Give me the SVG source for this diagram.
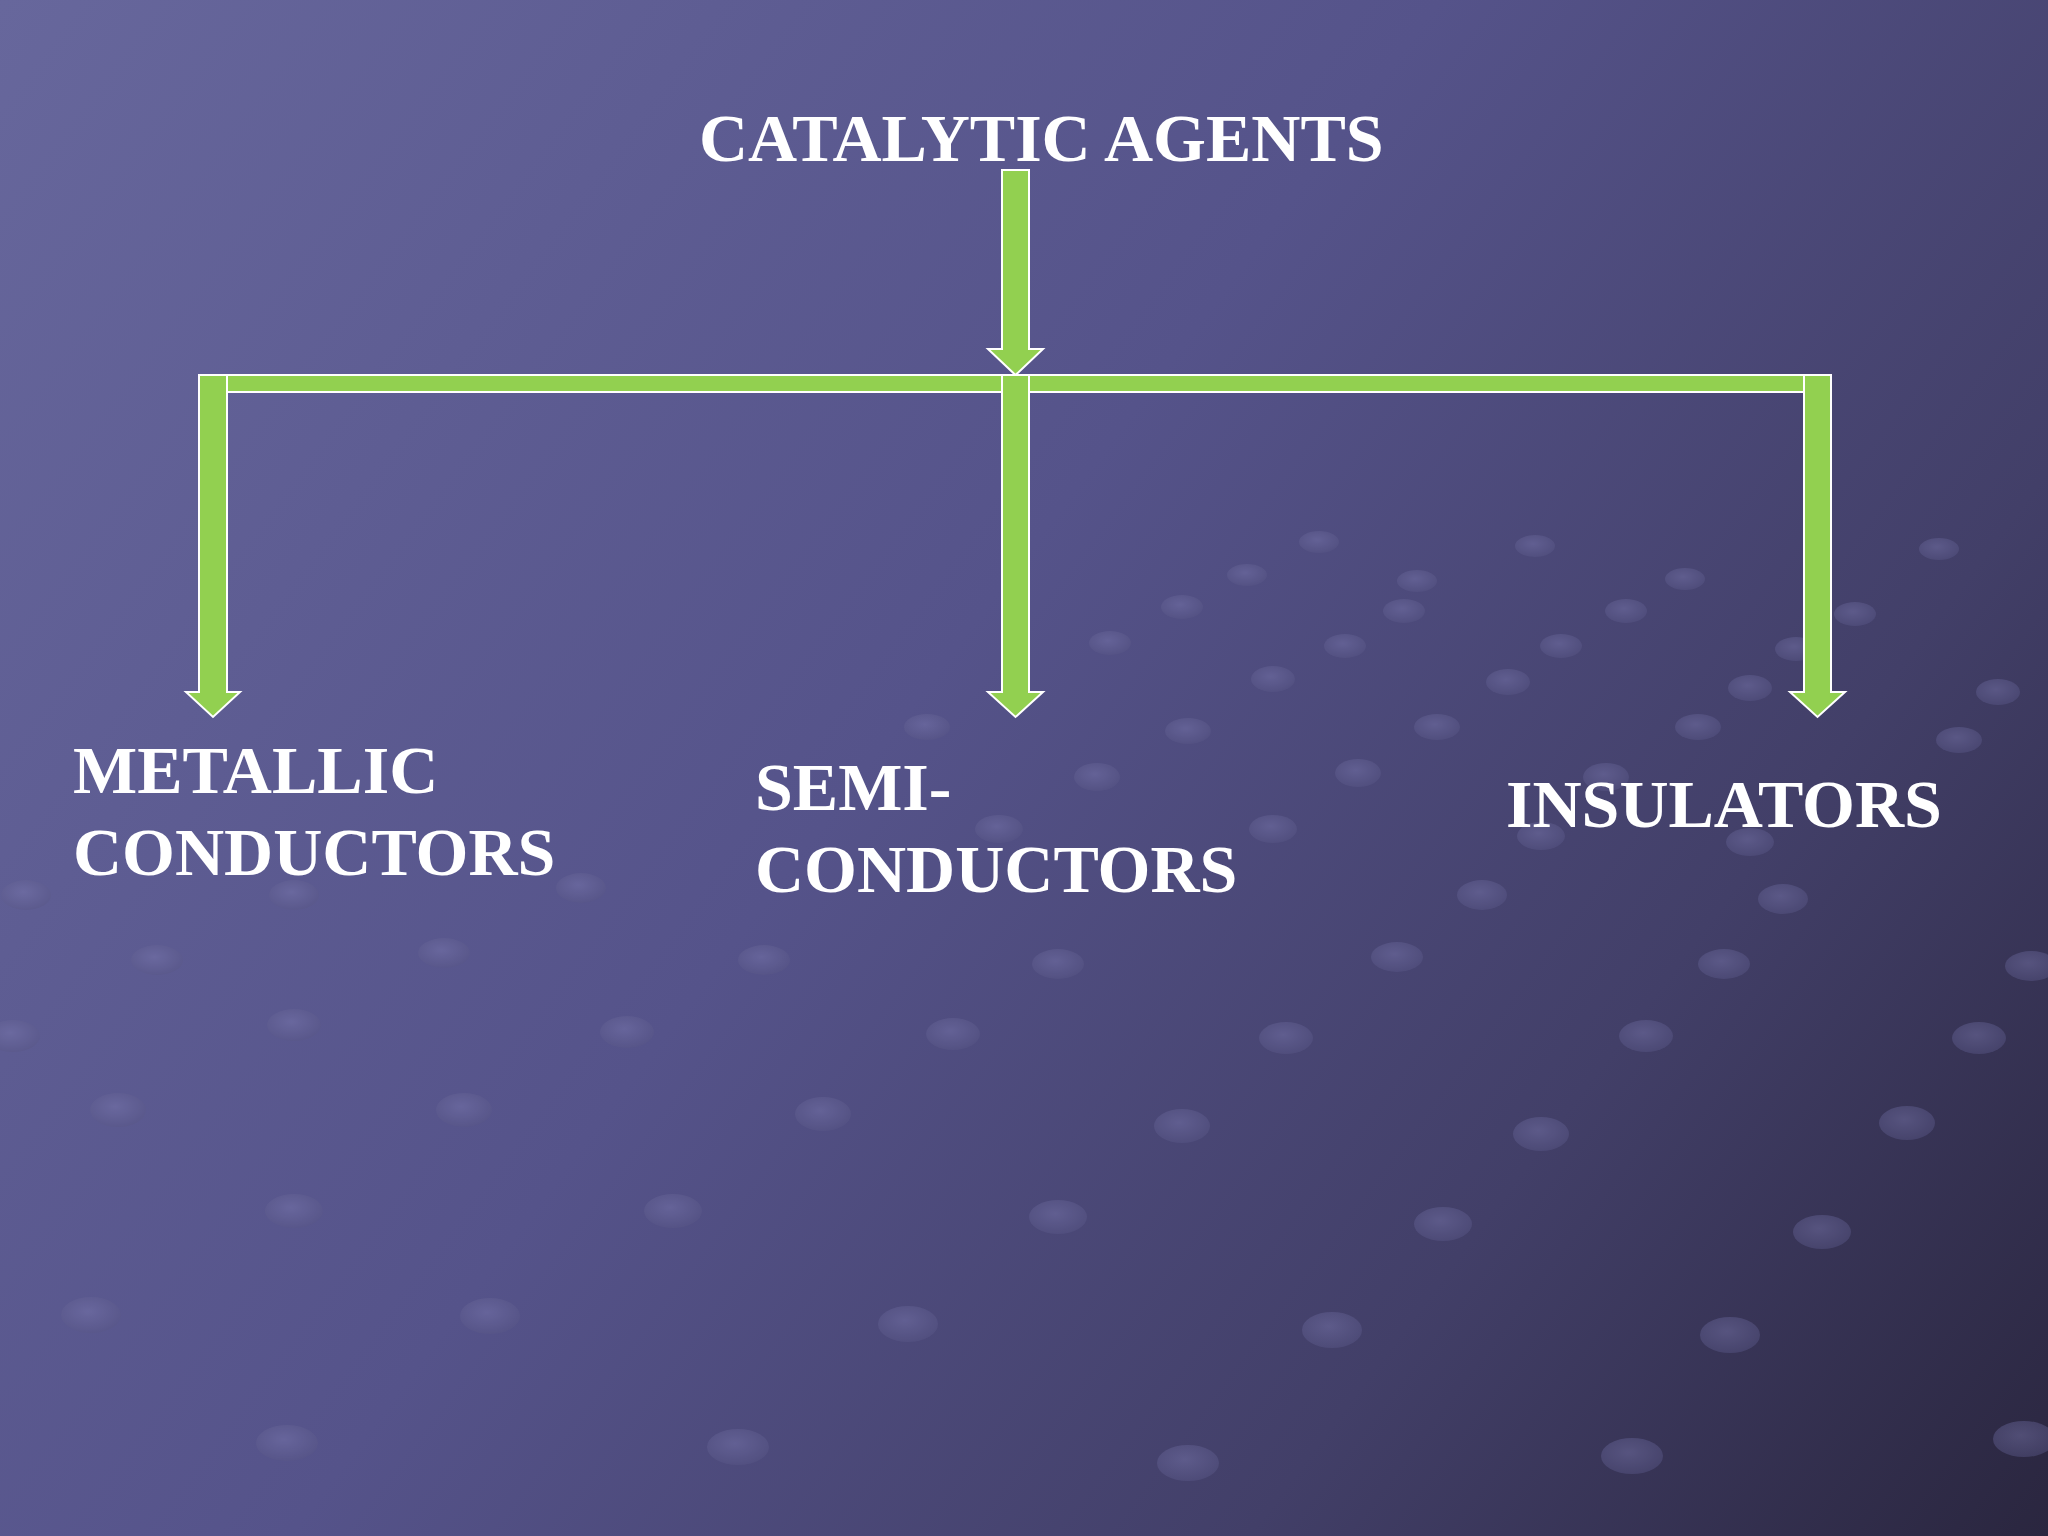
<svg xmlns="http://www.w3.org/2000/svg" width="2048" height="1536" viewBox="0 0 2048 1536">
<defs>
<linearGradient id="bg" x1="0" y1="0" x2="2048" y2="1536" gradientUnits="userSpaceOnUse">
<stop offset="0" stop-color="#67679c"/>
<stop offset="0.45" stop-color="#55538a"/>
<stop offset="0.75" stop-color="#423f68"/>
<stop offset="1" stop-color="#2a263f"/>
</linearGradient>
<radialGradient id="dotg" cx="0.45" cy="0.4" r="0.6">
<stop offset="0" stop-color="#7c7ab0"/>
<stop offset="1" stop-color="#5a5888"/>
</radialGradient>
</defs>
<style>
.lbl{font-family:"Liberation Serif","Times New Roman",serif;font-weight:bold;fill:#ffffff;font-size:68px;}
.arrow{fill:#92d050;stroke:#ffffff;stroke-width:2;stroke-linejoin:miter;}
.ds{fill:url(#dotg);opacity:0.45;}
</style>
<rect width="2048" height="1536" fill="url(#bg)"/>
<g id="background" class="ds">
<ellipse cx="1319" cy="542" rx="20" ry="11"/><ellipse cx="1535" cy="546" rx="20" ry="11"/><ellipse cx="1939" cy="549" rx="20" ry="11"/>
<ellipse cx="1247" cy="575" rx="20" ry="11"/><ellipse cx="1417" cy="581" rx="20" ry="11"/><ellipse cx="1685" cy="579" rx="20" ry="11"/>
<ellipse cx="1182" cy="607" rx="21" ry="12"/><ellipse cx="1404" cy="611" rx="21" ry="12"/><ellipse cx="1626" cy="611" rx="21" ry="12"/><ellipse cx="1855" cy="614" rx="21" ry="12"/>
<ellipse cx="1110" cy="643" rx="21" ry="12"/><ellipse cx="1345" cy="646" rx="21" ry="12"/><ellipse cx="1561" cy="646" rx="21" ry="12"/><ellipse cx="1796" cy="649" rx="21" ry="12"/>
<ellipse cx="1273" cy="679" rx="22" ry="13"/><ellipse cx="1508" cy="682" rx="22" ry="13"/><ellipse cx="1750" cy="688" rx="22" ry="13"/><ellipse cx="1998" cy="692" rx="22" ry="13"/>
<ellipse cx="927" cy="727" rx="23" ry="13"/><ellipse cx="1188" cy="731" rx="23" ry="13"/><ellipse cx="1437" cy="727" rx="23" ry="13"/><ellipse cx="1698" cy="727" rx="23" ry="13"/><ellipse cx="1959" cy="740" rx="23" ry="13"/>
<ellipse cx="1097" cy="777" rx="23" ry="14"/><ellipse cx="1358" cy="773" rx="23" ry="14"/><ellipse cx="1606" cy="777" rx="23" ry="14"/>
<ellipse cx="999" cy="829" rx="24" ry="14"/><ellipse cx="1273" cy="829" rx="24" ry="14"/><ellipse cx="1541" cy="836" rx="24" ry="14"/><ellipse cx="1750" cy="842" rx="24" ry="14"/>
<ellipse cx="1482" cy="895" rx="25" ry="15"/><ellipse cx="1783" cy="899" rx="25" ry="15"/><ellipse cx="26" cy="895" rx="25" ry="15"/><ellipse cx="294" cy="895" rx="25" ry="15"/><ellipse cx="581" cy="888" rx="25" ry="15"/>
<ellipse cx="764" cy="960" rx="26" ry="15"/><ellipse cx="1058" cy="964" rx="26" ry="15"/><ellipse cx="1397" cy="957" rx="26" ry="15"/><ellipse cx="1724" cy="964" rx="26" ry="15"/><ellipse cx="2031" cy="966" rx="26" ry="15"/><ellipse cx="444" cy="953" rx="26" ry="15"/><ellipse cx="157" cy="960" rx="26" ry="15"/>
<ellipse cx="627" cy="1032" rx="27" ry="16"/><ellipse cx="953" cy="1034" rx="27" ry="16"/><ellipse cx="1286" cy="1038" rx="27" ry="16"/><ellipse cx="1646" cy="1036" rx="27" ry="16"/><ellipse cx="1979" cy="1038" rx="27" ry="16"/><ellipse cx="294" cy="1025" rx="27" ry="16"/><ellipse cx="13" cy="1036" rx="27" ry="16"/>
<ellipse cx="118" cy="1110" rx="28" ry="17"/><ellipse cx="464" cy="1110" rx="28" ry="17"/><ellipse cx="823" cy="1114" rx="28" ry="17"/><ellipse cx="1182" cy="1126" rx="28" ry="17"/><ellipse cx="1541" cy="1134" rx="28" ry="17"/><ellipse cx="1907" cy="1123" rx="28" ry="17"/>
<ellipse cx="294" cy="1211" rx="29" ry="17"/><ellipse cx="673" cy="1211" rx="29" ry="17"/><ellipse cx="1058" cy="1217" rx="29" ry="17"/><ellipse cx="1443" cy="1224" rx="29" ry="17"/><ellipse cx="1822" cy="1232" rx="29" ry="17"/>
<ellipse cx="91" cy="1315" rx="30" ry="18"/><ellipse cx="490" cy="1316" rx="30" ry="18"/><ellipse cx="908" cy="1324" rx="30" ry="18"/><ellipse cx="1332" cy="1330" rx="30" ry="18"/><ellipse cx="1730" cy="1335" rx="30" ry="18"/>
<ellipse cx="287" cy="1443" rx="31" ry="18"/><ellipse cx="738" cy="1447" rx="31" ry="18"/><ellipse cx="1188" cy="1463" rx="31" ry="18"/><ellipse cx="1632" cy="1456" rx="31" ry="18"/><ellipse cx="2024" cy="1439" rx="31" ry="18"/>
</g>
<g id="connectors">
<rect class="arrow" x="199" y="375" width="1632" height="17"/>
<path class="arrow" d="M1002,170 H1029 V349 H1043 L1015.5,375 L988,349 H1002 Z"/>
<path class="arrow" d="M199,375 H227 V692 H240 L213,717 L186,692 H199 Z"/>
<path class="arrow" d="M1002,375 H1029 V692 H1043 L1015.5,717 L988,692 H1002 Z"/>
<path class="arrow" d="M1804,375 H1831 V692 H1845 L1817.5,717 L1790,692 H1804 Z"/>
</g>
<g id="node-catalytic-agents">
<text class="lbl" x="699" y="161">CATALYTIC AGENTS</text>
</g>
<g id="node-metallic-conductors">
<text class="lbl" x="73" y="793">METALLIC</text>
<text class="lbl" x="73" y="875">CONDUCTORS</text>
</g>
<g id="node-semi-conductors">
<text class="lbl" x="755" y="810">SEMI-</text>
<text class="lbl" x="755" y="892">CONDUCTORS</text>
</g>
<g id="node-insulators">
<text class="lbl" x="1506" y="827">INSULATORS</text>
</g>
</svg>
